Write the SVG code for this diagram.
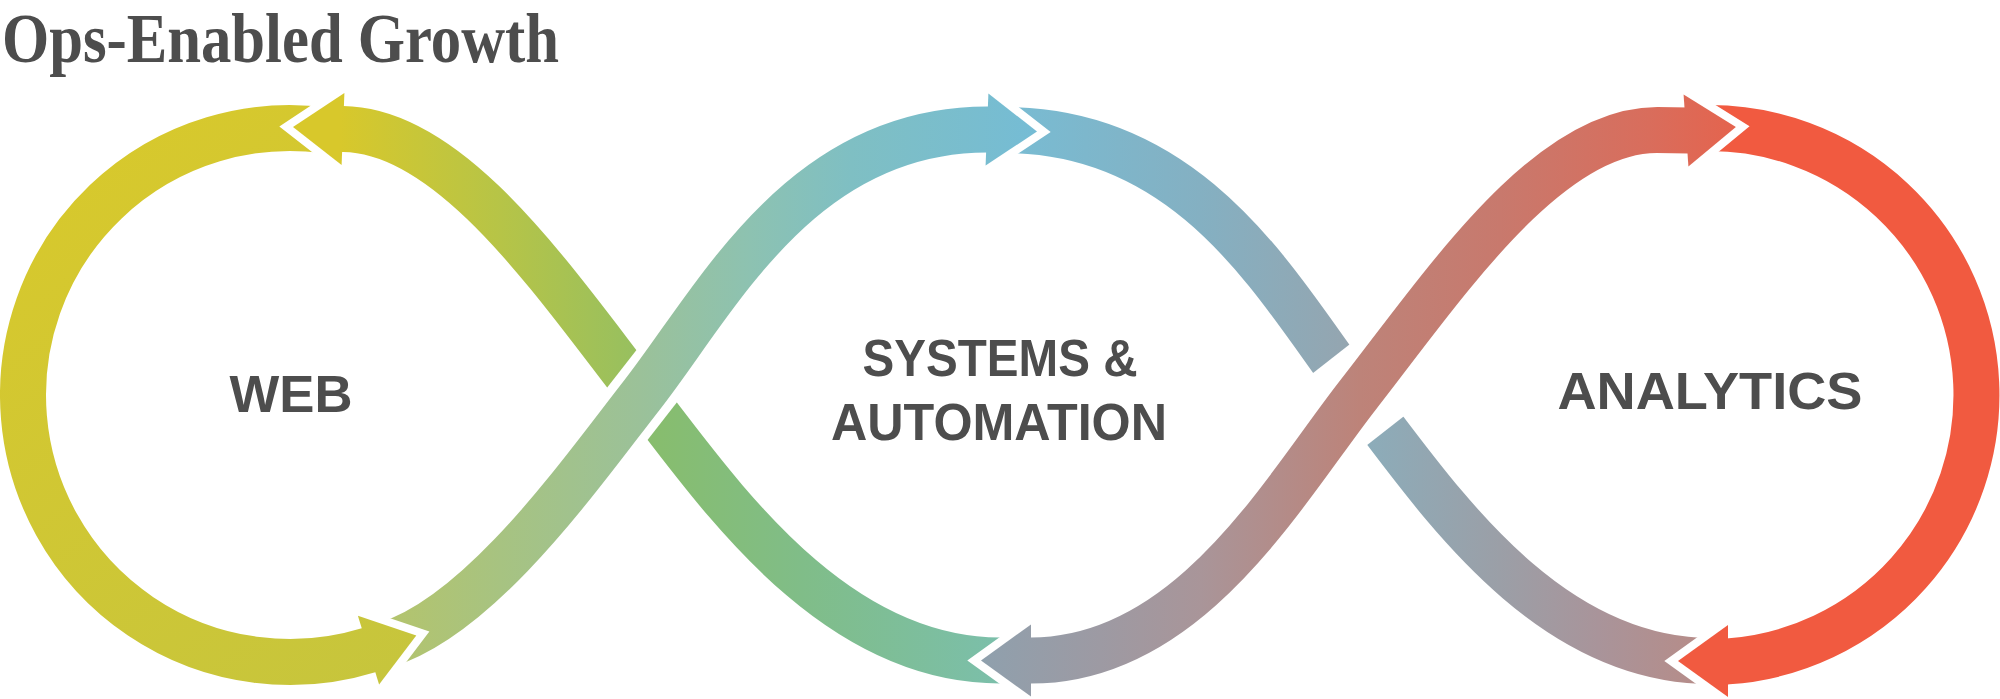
<svg xmlns="http://www.w3.org/2000/svg" width="2000" height="699" viewBox="0 0 2000 699">
  <style>
    .band { fill: none; stroke-width: 46; stroke-linecap: butt; stroke-linejoin: round; }
    .gap { fill: none; stroke: #ffffff; stroke-width: 16; stroke-linejoin: miter; stroke-miterlimit: 10; stroke-linecap: butt; }
    .cross { fill: none; stroke: #ffffff; stroke-width: 64; stroke-linecap: butt; }
    .label { font-family: "Liberation Sans", Arial, "DejaVu Sans", sans-serif; font-weight: 700; font-size: 52px; fill: #4d4d4d; text-anchor: middle; }
    .title { font-family: "Liberation Serif", "DejaVu Serif", serif; font-weight: 700; font-size: 69px; fill: #4d4d4d; }
  </style>
  <defs>
    <linearGradient id="gLeft" gradientUnits="userSpaceOnUse" x1="0" y1="100" x2="420" y2="690">
      <stop offset="0" stop-color="#dac92a"/>
      <stop offset="1" stop-color="#c6c53d"/>
    </linearGradient>
    <linearGradient id="gGreenU" gradientUnits="userSpaceOnUse" x1="340" y1="0" x2="650" y2="0">
      <stop offset="0" stop-color="#d8c82b"/>
      <stop offset="0.52" stop-color="#b6c447"/>
      <stop offset="1" stop-color="#94bf62"/>
    </linearGradient>
    <linearGradient id="gGreenL" gradientUnits="userSpaceOnUse" x1="640" y1="0" x2="1015" y2="0">
      <stop offset="0" stop-color="#88bd6b"/>
      <stop offset="0.43" stop-color="#80bd88"/>
      <stop offset="1" stop-color="#7bbfad"/>
    </linearGradient>
    <linearGradient id="gDiag" gradientUnits="userSpaceOnUse" x1="385" y1="0" x2="1040" y2="0">
      <stop offset="0" stop-color="#b4c46c"/>
      <stop offset="0.176" stop-color="#a7c381"/>
      <stop offset="0.39" stop-color="#9bc199"/>
      <stop offset="0.557" stop-color="#8dc2b1"/>
      <stop offset="0.71" stop-color="#7fbfc3"/>
      <stop offset="1" stop-color="#75bcd5"/>
    </linearGradient>
    <linearGradient id="gBlueU" gradientUnits="userSpaceOnUse" x1="1005" y1="0" x2="1380" y2="0">
      <stop offset="0" stop-color="#78bcd3"/>
      <stop offset="0.52" stop-color="#84b0c2"/>
      <stop offset="1" stop-color="#98a3ac"/>
    </linearGradient>
    <linearGradient id="gBlueL" gradientUnits="userSpaceOnUse" x1="1350" y1="0" x2="1715" y2="0">
      <stop offset="0" stop-color="#8aaebc"/>
      <stop offset="0.41" stop-color="#9b9fa7"/>
      <stop offset="0.68" stop-color="#a9949a"/>
      <stop offset="1" stop-color="#b88b86"/>
    </linearGradient>
    <linearGradient id="gRed" gradientUnits="userSpaceOnUse" x1="980" y1="0" x2="1740" y2="0">
      <stop offset="0" stop-color="#8fa0ad"/>
      <stop offset="0.158" stop-color="#9d9aa3"/>
      <stop offset="0.29" stop-color="#a99599"/>
      <stop offset="0.5" stop-color="#bd8379"/>
      <stop offset="0.684" stop-color="#c8796d"/>
      <stop offset="0.88" stop-color="#d96d5c"/>
      <stop offset="1" stop-color="#e5634d"/>
    </linearGradient>
  </defs>

  <g id="title">
    <text class="title" x="2" y="61.5" textLength="557" lengthAdjust="spacingAndGlyphs">Ops-Enabled Growth</text>
  </g>

  <g id="connectors">
    <!-- under bands -->
    <path class="band" stroke="url(#gLeft)" d="M 325 130.3 A 267 267 0 1 0 368.5 650.2 L 371.4 649.3"/>
    <path class="band" stroke="url(#gGreenU)" d="M 340 129 L 343 129 C 453 130 555.8 284.7 642 395"/>
    <path class="band" stroke="url(#gGreenL)" d="M 642 395 C 716 489.6 830 660.5 1000 660.5 L 1013 660.5"/>
    <path class="band" stroke="url(#gBlueU)" d="M 1005 130 C 1200 130 1284 300.4 1358 395"/>
    <path class="band" stroke="url(#gBlueL)" d="M 1358 395 C 1432 489.6 1541 661 1711 661"/>
    <!-- crossing gaps -->
    <path class="cross" d="M 614.3 430.5 L 669.7 359.5"/>
    <path class="cross" d="M 1330.3 359.5 L 1385.7 430.5"/>
    <!-- over bands -->
    <path class="band" stroke="url(#gDiag)" d="M 385.7 644.9 C 481.3 615.5 580.4 473.8 642 395 C 716 300.4 800 129.5 987 129.5 L 990 129.6"/>
    <path class="band" stroke="url(#gRed)" d="M 1689 130.4 L 1657 130 C 1547 130 1444.2 284.7 1358 395 C 1284 489.6 1190 660.5 1031 660.5 L 1028 660.5"/>
    <path class="band" stroke="#f15a40" d="M 1704 128.1 A 267 267 0 0 1 1728 661.4 L 1725 661.4"/>
    <!-- arrowheads -->
    <polyline class="gap" points="344.4,93 293,127 341.6,165"/>
    <polygon fill="url(#gGreenU)" points="344.4,93 293,127 341.6,165"/>
    <polyline class="gap" points="379.1,684.6 416.3,635.5 357.9,615.8"/>
    <polygon fill="url(#gLeft)" points="379.1,684.6 416.3,635.5 357.9,615.8"/>
    <polyline class="gap" points="988.4,93.5 1037,131.5 985.6,165.5"/>
    <polygon fill="url(#gDiag)" points="988.4,93.5 1037,131.5 985.6,165.5"/>
    <polyline class="gap" points="1031,624.5 981,660.5 1031,696.5"/>
    <polygon fill="url(#gRed)" points="1031,624.5 981,660.5 1031,696.5"/>
    <polyline class="gap" points="1683.6,94.6 1735.9,127.1 1688.4,166.4"/>
    <polygon fill="url(#gRed)" points="1683.6,94.6 1735.9,127.1 1688.4,166.4"/>
    <polyline class="gap" points="1728,625 1678,661 1728,697"/>
    <polygon fill="#f15a40" points="1728,625 1678,661 1728,697"/>
  </g>

  <g id="node-web">
    <text class="label" x="291" y="412" textLength="123" lengthAdjust="spacingAndGlyphs">WEB</text>
  </g>
  <g id="node-systems">
    <text class="label" x="1000" y="376" textLength="275" lengthAdjust="spacingAndGlyphs">SYSTEMS &amp;</text>
    <text class="label" x="999" y="440" textLength="336" lengthAdjust="spacingAndGlyphs">AUTOMATION</text>
  </g>
  <g id="node-analytics">
    <text class="label" x="1710" y="409" textLength="305" lengthAdjust="spacingAndGlyphs">ANALYTICS</text>
  </g>
</svg>
